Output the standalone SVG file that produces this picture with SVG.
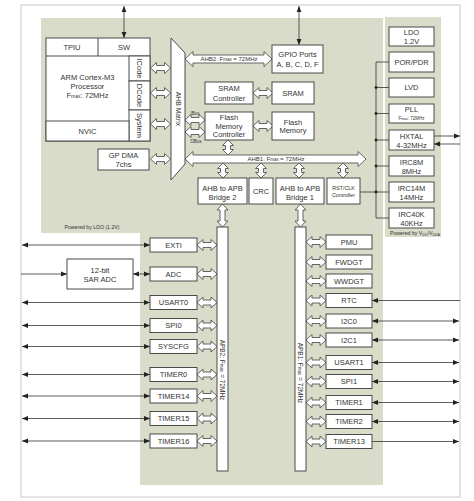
<svg xmlns="http://www.w3.org/2000/svg" xmlns:xlink="http://www.w3.org/1999/xlink" width="474" height="501" viewBox="0 0 474 501">
<style>
text{font-family:"Liberation Sans",Arial,sans-serif;fill:#333;font-size:7.5px;text-anchor:middle}
.box{fill:#fff;stroke:#4a4a4a;stroke-width:1}
.ha{fill:#fff;stroke:#555;stroke-width:0.9}
.ln{stroke:#333;stroke-width:0.8;fill:none}
.sm{font-size:6px}
.xs{font-size:5px}
.tiny{font-size:4.5px}
</style>
<defs>
<marker id="ah" viewBox="0 0 6 6" refX="6" refY="3" markerWidth="6" markerHeight="6" markerUnits="userSpaceOnUse" orient="auto-start-reverse"><path d="M0,0.6 L6,3 L0,5.4 Z" fill="#222"/></marker>
<path id="ha20" d="M0,0 L6,-5.5 L6,-2.5 L14,-2.5 L14,-5.5 L20,0 L14,5.5 L14,2.5 L6,2.5 L6,5.5 Z"/>
<path id="va15" d="M0,0 L5.5,5.5 L2.5,5.5 L2.5,9.5 L5.5,9.5 L0,15 L-5.5,9.5 L-2.5,9.5 L-2.5,5.5 L-5.5,5.5 Z"/>
<path id="va23" d="M0,0 L5.5,6 L2.5,6 L2.5,17 L5.5,17 L0,23 L-5.5,17 L-2.5,17 L-2.5,6 L-5.5,6 Z"/>
</defs>
<rect width="474" height="501" fill="#fff"/>
<rect x="21" y="5" width="439" height="492" fill="none" stroke="#c8c8c8" stroke-width="1"/>
<path d="M41,18 H383 V485 H140 V233 H41 Z" fill="#d9dcc8"/>
<rect x="385" y="17" width="56" height="220" fill="#d9dcc8"/>
<text x="92" y="229" class="xs" style="font-size:5.2px">Powered by LDO (1.2V)</text>
<text x="415" y="235" class="xs" style="font-size:5.2px">Powered by V<tspan style="font-size:3.6px" dy="1">DD</tspan><tspan dy="-1">/V</tspan><tspan style="font-size:3.6px" dy="1">DDA</tspan></text>

<g id="connectors">
<line class="ln" x1="124" y1="6" x2="124" y2="38" marker-start="url(#ah)" marker-end="url(#ah)"/>
<line class="ln" x1="299" y1="6" x2="299" y2="45" marker-start="url(#ah)" marker-end="url(#ah)"/>
<use href="#ha20" class="ha" x="150.5" y="68"/>
<use href="#ha20" class="ha" x="150.5" y="93"/>
<use href="#ha20" class="ha" x="150.5" y="124"/>
<use href="#ha20" class="ha" x="150.5" y="159"/>
<use href="#ha20" class="ha" x="185" y="120"/>
<use href="#ha20" class="ha" x="185" y="132"/>
<text x="195" y="115" class="tiny">IBus</text>
<text x="196" y="143" class="tiny">DBus</text>
<use href="#ha20" class="ha" x="253" y="93"/>
<use href="#ha20" class="ha" x="253" y="126"/>
<path class="ha" d="M185,59 L193,51.5 L193,55 L264,55 L264,51.5 L272,59 L264,66.5 L264,63 L193,63 L193,66.5 Z"/>
<text x="229" y="61.2" class="sm">AHB2: F<tspan style="font-size:4.5px">max</tspan> = 72MHz</text>
<path class="ha" d="M185,159 L193,151.5 L193,155 L358,155 L358,151.5 L366,159 L358,166.5 L358,163 L193,163 L193,166.5 Z"/>
<text x="276" y="161.2" class="sm">AHB1: F<tspan style="font-size:4.5px">max</tspan> = 72MHz</text>
<use href="#va15" class="ha" x="228" y="140"/>
<use href="#va15" class="ha" x="223" y="163"/>
<use href="#va15" class="ha" x="261" y="163"/>
<use href="#va15" class="ha" x="299" y="163"/>
<use href="#va15" class="ha" x="343" y="163"/>
<use href="#va23" class="ha" x="222.5" y="204"/>
<use href="#va23" class="ha" x="300.5" y="204"/>
<!-- power wiring -->
<path class="ln" d="M389,62 H376 V218 H389 M376,87.5 H389 M376,113.5 H389 M376,140 H389 M376,166 H389 M360,192 H389"/>
<g fill="#222">
<circle cx="376" cy="87.5" r="1.4"/><circle cx="376" cy="113.5" r="1.4"/><circle cx="376" cy="140" r="1.4"/><circle cx="376" cy="166" r="1.4"/><circle cx="376" cy="192" r="1.4"/>
</g>
<line class="ln" x1="434" y1="136" x2="460" y2="136" marker-end="url(#ah)"/>
<line class="ln" x1="460" y1="144" x2="434" y2="144" marker-end="url(#ah)"/>
<!-- APB2 side -->
<g class="ha">
<use href="#ha20" x="197" y="245"/>
<use href="#ha20" x="197" y="274"/>
<use href="#ha20" x="197" y="302.5"/>
<use href="#ha20" x="197" y="325.5"/>
<use href="#ha20" x="197" y="346.5"/>
<use href="#ha20" x="197" y="374.5"/>
<use href="#ha20" x="197" y="396"/>
<use href="#ha20" x="197" y="418.5"/>
<use href="#ha20" x="197" y="441"/>
</g>
<g class="ln">
<line x1="22" y1="245" x2="150" y2="245" marker-start="url(#ah)" marker-end="url(#ah)"/>
<line x1="21" y1="274" x2="67" y2="274" marker-end="url(#ah)"/>
<line x1="133" y1="274" x2="150" y2="274" marker-start="url(#ah)" marker-end="url(#ah)"/>
<line x1="22" y1="302.5" x2="150" y2="302.5" marker-start="url(#ah)" marker-end="url(#ah)"/>
<line x1="22" y1="325.5" x2="150" y2="325.5" marker-start="url(#ah)" marker-end="url(#ah)"/>
<line x1="22" y1="346.5" x2="150" y2="346.5" marker-start="url(#ah)" marker-end="url(#ah)"/>
<line x1="22" y1="374.5" x2="150" y2="374.5" marker-start="url(#ah)" marker-end="url(#ah)"/>
<line x1="22" y1="396" x2="150" y2="396" marker-start="url(#ah)" marker-end="url(#ah)"/>
<line x1="22" y1="418.5" x2="150" y2="418.5" marker-start="url(#ah)" marker-end="url(#ah)"/>
<line x1="22" y1="441" x2="150" y2="441" marker-start="url(#ah)" marker-end="url(#ah)"/>
</g>
<!-- APB1 side -->
<g class="ha">
<use href="#ha20" x="306" y="242"/>
<use href="#ha20" x="306" y="262"/>
<use href="#ha20" x="306" y="281"/>
<use href="#ha20" x="306" y="300.5"/>
<use href="#ha20" x="306" y="321"/>
<use href="#ha20" x="306" y="340"/>
<use href="#ha20" x="306" y="362.5"/>
<use href="#ha20" x="306" y="381.5"/>
<use href="#ha20" x="306" y="402.5"/>
<use href="#ha20" x="306" y="421.5"/>
<use href="#ha20" x="306" y="441.5"/>
</g>
<g class="ln">
<line x1="460" y1="300.5" x2="372" y2="300.5" marker-end="url(#ah)"/>
<line x1="372" y1="321" x2="459" y2="321" marker-start="url(#ah)" marker-end="url(#ah)"/>
<line x1="372" y1="340" x2="459" y2="340" marker-start="url(#ah)" marker-end="url(#ah)"/>
<line x1="372" y1="362.5" x2="459" y2="362.5" marker-start="url(#ah)" marker-end="url(#ah)"/>
<line x1="372" y1="381.5" x2="459" y2="381.5" marker-start="url(#ah)" marker-end="url(#ah)"/>
<line x1="372" y1="402.5" x2="459" y2="402.5" marker-start="url(#ah)" marker-end="url(#ah)"/>
<line x1="372" y1="421.5" x2="459" y2="421.5" marker-start="url(#ah)" marker-end="url(#ah)"/>
<line x1="372" y1="441.5" x2="459" y2="441.5" marker-end="url(#ah)"/>
</g>
</g>

<g id="cpu">
<rect class="box" x="46" y="38" width="104" height="103"/>
<line class="ln" x1="46" y1="56" x2="150" y2="56" style="stroke:#4a4a4a;stroke-width:1"/>
<line class="ln" x1="98" y1="38" x2="98" y2="56" style="stroke:#4a4a4a;stroke-width:1"/>
<rect class="box" x="129" y="56" width="21" height="25"/>
<rect class="box" x="129" y="81" width="21" height="29"/>
<rect class="box" x="129" y="110" width="21" height="31"/>
<rect class="box" x="46" y="121" width="83" height="20"/>
<text x="72" y="50">TPIU</text>
<text x="124" y="50">SW</text>
<text x="87.5" y="80">ARM Cortex-M3</text>
<text x="87.5" y="88.5">Processor</text>
<text x="87.5" y="97.5">F<tspan style="font-size:5px">max</tspan>: 72MHz</text>
<text x="87.5" y="134">NVIC</text>
<text transform="translate(139.5,68.5) rotate(90)" y="2.6">ICode</text>
<text transform="translate(139.5,95.5) rotate(90)" y="2.6">DCode</text>
<text transform="translate(139.5,125.5) rotate(90)" y="2.6">System</text>
</g>
<g id="gpdma"><rect class="box" x="98" y="149" width="51" height="21"/><text x="123.5" y="158">GP DMA</text><text x="123.5" y="167">7chs</text></g>
<g id="ahb-matrix"><polygon class="box" points="171,38 185,53 185,164 171,180"/><text transform="translate(178,109) rotate(90)" y="2.4" style="font-size:6.8px">AHB Matrix</text></g>
<g id="gpio"><rect class="box" x="272" y="45" width="51" height="28"/><text x="297.5" y="57">GPIO Ports</text><text x="297.5" y="66.5">A, B, C, D, F</text></g>
<g id="sram-ctrl"><rect class="box" x="205" y="82" width="48" height="22"/><text x="229" y="91">SRAM</text><text x="229" y="100.5">Controller</text></g>
<g id="sram"><rect class="box" x="272" y="82" width="42" height="22"/><text x="293" y="96">SRAM</text></g>
<g id="flash-ctrl"><rect class="box" x="205" y="112" width="48" height="28"/><text x="229" y="120">Flash</text><text x="229" y="128.5">Memory</text><text x="229" y="137">Controller</text></g>
<g id="flash"><rect class="box" x="272" y="112" width="42" height="28"/><text x="293" y="124.5">Flash</text><text x="293" y="133">Memory</text></g>
<g id="bridge2"><rect class="box" x="198" y="178" width="49" height="26"/><text x="222.5" y="190.5">AHB to APB</text><text x="222.5" y="199.5">Bridge 2</text></g>
<g id="crc"><rect class="box" x="249" y="178" width="24" height="26"/><text x="261" y="194">CRC</text></g>
<g id="bridge1"><rect class="box" x="276" y="178" width="48" height="26"/><text x="300" y="190.5">AHB to APB</text><text x="300" y="199.5">Bridge 1</text></g>
<g id="rstclk"><rect class="box" x="327" y="178" width="33" height="26"/><text x="343.5" y="190" class="xs" style="font-size:5.3px">RST/CLK</text><text x="343.5" y="197" class="xs" style="font-size:5.3px">Controller</text></g>

<g id="ldo"><rect class="box" x="389" y="27" width="45" height="19"/><text x="411.5" y="35">LDO</text><text x="411.5" y="44">1.2V</text></g>
<g id="porpdr"><rect class="box" x="389" y="52" width="45" height="20"/><text x="411.5" y="64.5">POR/PDR</text></g>
<g id="lvd"><rect class="box" x="389" y="78" width="45" height="19"/><text x="411.5" y="90">LVD</text></g>
<g id="pll"><rect class="box" x="389" y="104" width="45" height="19"/><text x="411.5" y="112">PLL</text><text x="411.5" y="119.5" class="tiny">F<tspan style="font-size:3.5px">max</tspan>: 72MHz</text></g>
<g id="hxtal"><rect class="box" x="389" y="130" width="45" height="20"/><text x="411.5" y="138.5">HXTAL</text><text x="411.5" y="147.5">4-32MHz</text></g>
<g id="irc8m"><rect class="box" x="389" y="156" width="45" height="20"/><text x="411.5" y="164.5">IRC8M</text><text x="411.5" y="173.5">8MHz</text></g>
<g id="irc14m"><rect class="box" x="389" y="182" width="45" height="20"/><text x="411.5" y="190.5">IRC14M</text><text x="411.5" y="199.5">14MHz</text></g>
<g id="irc40k"><rect class="box" x="389" y="208" width="45" height="20"/><text x="411.5" y="216.5">IRC40K</text><text x="411.5" y="225.5">40KHz</text></g>

<g id="apb2"><rect class="box" x="217" y="227" width="11" height="244"/><text transform="translate(222.5,370) rotate(90)" y="2.3" style="font-size:6.5px">APB2: F<tspan style="font-size:4.5px">max</tspan> = 72MHz</text></g>
<g id="apb1"><rect class="box" x="295" y="227" width="11" height="244"/><text transform="translate(300.5,373) rotate(90)" y="2.3" style="font-size:6.5px">APB1: F<tspan style="font-size:4.5px">max</tspan> = 72MHz</text></g>

<g id="sar-adc"><rect class="box" x="67" y="259" width="66" height="30"/><text x="100" y="272.5">12-bit</text><text x="100" y="281.5">SAR ADC</text></g>
<g id="exti"><rect class="box" x="150" y="238" width="47" height="14"/><text x="173.5" y="247.7">EXTI</text></g>
<g id="adc"><rect class="box" x="150" y="267" width="47" height="14"/><text x="173.5" y="276.7">ADC</text></g>
<g id="usart0"><rect class="box" x="150" y="295.5" width="47" height="14"/><text x="173.5" y="305.2">USART0</text></g>
<g id="spi0"><rect class="box" x="150" y="318.5" width="47" height="14"/><text x="173.5" y="328.2">SPI0</text></g>
<g id="syscfg"><rect class="box" x="150" y="339.5" width="47" height="14"/><text x="173.5" y="349.2">SYSCFG</text></g>
<g id="timer0"><rect class="box" x="150" y="367.5" width="47" height="14"/><text x="173.5" y="377.2">TIMER0</text></g>
<g id="timer14"><rect class="box" x="150" y="389" width="47" height="14"/><text x="173.5" y="398.7">TIMER14</text></g>
<g id="timer15"><rect class="box" x="150" y="411.5" width="47" height="14"/><text x="173.5" y="421.2">TIMER15</text></g>
<g id="timer16"><rect class="box" x="150" y="434" width="47" height="14"/><text x="173.5" y="443.7">TIMER16</text></g>

<g id="pmu"><rect class="box" x="326" y="235" width="46" height="14"/><text x="349" y="244.7">PMU</text></g>
<g id="fwdgt"><rect class="box" x="326" y="255" width="46" height="14"/><text x="349" y="264.7">FWDGT</text></g>
<g id="wwdgt"><rect class="box" x="326" y="274" width="46" height="14"/><text x="349" y="283.7">WWDGT</text></g>
<g id="rtc"><rect class="box" x="326" y="293.5" width="46" height="14"/><text x="349" y="303.2">RTC</text></g>
<g id="i2c0"><rect class="box" x="326" y="314" width="46" height="14"/><text x="349" y="323.7">I2C0</text></g>
<g id="i2c1"><rect class="box" x="326" y="333" width="46" height="14"/><text x="349" y="342.7">I2C1</text></g>
<g id="usart1"><rect class="box" x="326" y="355.5" width="46" height="14"/><text x="349" y="365.2">USART1</text></g>
<g id="spi1"><rect class="box" x="326" y="374.5" width="46" height="14"/><text x="349" y="384.2">SPI1</text></g>
<g id="timer1"><rect class="box" x="326" y="395.5" width="46" height="14"/><text x="349" y="405.2">TIMER1</text></g>
<g id="timer2"><rect class="box" x="326" y="414.5" width="46" height="14"/><text x="349" y="424.2">TIMER2</text></g>
<g id="timer13"><rect class="box" x="326" y="434.5" width="46" height="14"/><text x="349" y="444.2">TIMER13</text></g>
</svg>
